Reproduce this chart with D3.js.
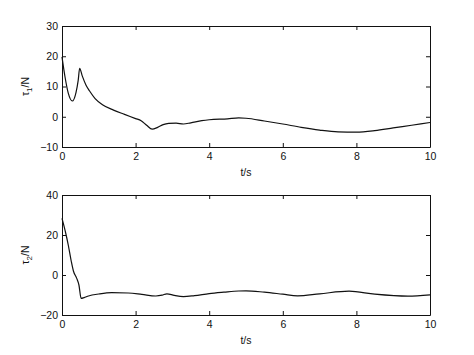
<!DOCTYPE html>
<html>
<head>
<meta charset="utf-8">
<script src="https://cdn.jsdelivr.net/npm/d3@7"></script>
<style>
	body { margin: 0; background: #fff; }
	text { font-family: "Liberation Sans", Arial, sans-serif; }
</style>
</head>
<body>
<svg id="chart"></svg>
<script>
// two stacked panels, matlab style

let tTau1 = [0, 0.08, 0.17, 0.28, 0.38, 0.44, 0.48, 0.55, 0.65, 0.75, 0.9, 1.1, 1.4, 1.7, 2.0, 2.15, 2.3, 2.45, 2.6, 2.75, 2.9, 3.1, 3.3, 3.5, 3.8, 4.0, 4.5, 4.8, 5.0, 5.5, 6.0, 6.5, 7.0, 7.5, 8.0, 8.5, 9.0, 9.5, 10];
let tau1 = [19.8, 13.3, 7.8, 5.2, 8, 12, 16, 13.5, 10.5, 8.5, 6, 4, 2.2, 0.8, -0.6, -1.3, -2.8, -4.1, -3.5, -2.6, -2.2, -2.1, -2.4, -2.0, -1.3, -1.0, -0.7, -0.4, -0.5, -1.4, -2.4, -3.5, -4.4, -5.0, -5.1, -4.6, -3.7, -2.8, -1.9];

let tTau2 = [0, 0.1, 0.17, 0.25, 0.31, 0.4, 0.46, 0.52, 0.6, 0.72, 1.0, 1.35, 1.8, 2.17, 2.55, 2.72, 2.85, 3.05, 3.3, 3.6, 4.0, 4.4, 4.8, 5.0, 5.5, 6.0, 6.4, 7.0, 7.8, 8.5, 9.4, 10];
let tau2 = [28.3, 21, 15, 7, 2, -1.7, -5, -11.7, -11.3, -10.5, -9.5, -8.8, -9, -9.7, -10.5, -10.1, -9.4, -10.2, -10.8, -10.3, -9.3, -8.6, -8.0, -7.9, -8.6, -9.6, -10.4, -9.4, -8.1, -9.6, -10.6, -9.9];

let xTicks = [0, 2, 4, 6, 8, 10];
let yTicks1 = [-10, 0, 10, 20, 30];
let yTicks2 = [-20, 0, 20, 40];

let width = 474;
let height = 355;

let svg = d3.select("#chart")
	.attr("width", width)
	.attr("height", height);

function drawPanel(top, bottom, tArr, vArr, yDomain, yTicks, sub){
	let x = d3.scaleLinear().domain([0, 10]).range([62, 430]);
	let y = d3.scaleLinear().domain(yDomain).range([bottom, top]);
	let g = svg.append("g");

	// curve
	let line = d3.line()
		.x(d => x(d[0]))
		.y(d => y(d[1]))
		.curve(d3.curveMonotoneX);
	g.append("path")
		.datum(tArr.map((t, i) => [t, vArr[i]]))
		.attr("d", line)
		.attr("fill", "none")
		.attr("stroke", "#111")
		.attr("stroke-width", 1.2);

	// axes, ticks pointing inward
	g.append("g").attr("transform", "translate(0," + bottom + ")")
		.call(d3.axisBottom(x).tickValues(xTicks).tickSizeInner(-4).tickSizeOuter(0).tickPadding(6));
	g.append("g").attr("transform", "translate(0," + top + ")")
		.call(d3.axisTop(x).tickValues(xTicks).tickSizeInner(-4).tickSizeOuter(0).tickFormat(""));
	g.append("g").attr("transform", "translate(62,0)")
		.call(d3.axisLeft(y).tickValues(yTicks).tickSizeInner(-4).tickSizeOuter(0).tickPadding(4)
			.tickFormat(d => d < 0 ? "\u2212" + Math.abs(d) : d));
	g.append("g").attr("transform", "translate(430,0)")
		.call(d3.axisRight(y).tickValues(yTicks).tickSizeInner(-4).tickSizeOuter(0).tickFormat(""));

	g.selectAll(".domain").attr("stroke", "#111").attr("stroke-width", 1);
	g.selectAll(".tick line").attr("stroke", "#111");
	g.selectAll(".tick text").attr("font-size", 10.5).attr("fill", "#111")
		.attr("font-family", "'Liberation Sans', Arial, sans-serif");

	// labels
	g.append("text")
		.attr("x", 246)
		.attr("y", bottom + 29)
		.attr("text-anchor", "middle")
		.attr("font-size", 10.5)
		.attr("fill", "#111")
		.text("t/s");

	let yl = g.append("text")
		.attr("transform", "translate(29," + ((top + bottom) / 2) + ") rotate(-90)")
		.attr("text-anchor", "middle")
		.attr("font-size", 10.5)
		.attr("fill", "#111");
	yl.append("tspan").text("\u03c4");
	yl.append("tspan").attr("font-size", 8).attr("dy", 3).text(sub);
	yl.append("tspan").attr("dy", -3).text("/N");
}

drawPanel(26, 147, tTau1, tau1, [-10, 30], yTicks1, "1");
drawPanel(195, 315, tTau2, tau2, [-20, 40], yTicks2, "2");
</script>
</body>
</html>
